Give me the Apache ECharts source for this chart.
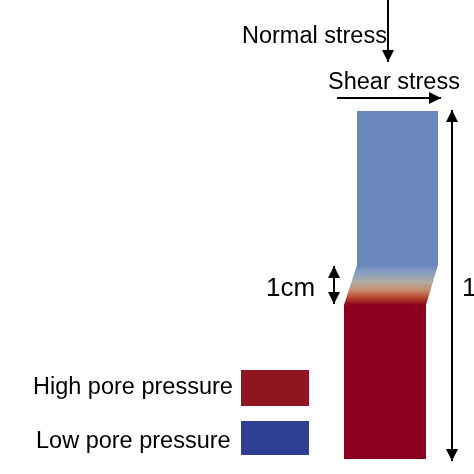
<!DOCTYPE html>
<html>
<head>
<meta charset="utf-8">
<title>Shear zone</title>
<style>
  html, body { margin: 0; padding: 0; background: #fff; }
  #chartmain { width: 474px; height: 474px; }
</style>
<script src="https://cdn.jsdelivr.net/npm/echarts@6/dist/echarts.min.js"></script>
</head>
<body>
<div id="chartmain"></div>
<script>
// sample outline, one row per level: [y, left x, right x]
var blueBlock = [[111, 357, 438], [265, 357, 438]];
var shearBand = [[265, 357, 438], [305, 344, 426]];
var redBlock = [[305, 344, 426], [459, 344, 426]];

var blueColor = '#6a87bd';
var redColor = '#8b001f';
var shearStops = [
  [0, '#6a87bd'], [0.2, '#8a9fc0'], [0.42, '#b0aba2'], [0.62, '#c98f6e'],
  [0.82, '#b8452f'], [1, '#8b001f']
];

// legend
var legendNames = ['High pore pressure', 'Low pore pressure'];
var legendColors = ['#8f1520', '#2f3f92'];
var legendBoxes = [[241, 370, 309, 406], [241, 421, 309, 455]];
var legendText = [[33, 400], [36, 454]];

// other labels
var labelNames = ['Normal stress', 'Shear stress', '1cm', '1'];
var labelPos = [[242, 49], [328, 95], [266, 302], [462, 302]];
var labelSize = [23.5, 23.5, 26, 26];

// arrows: [x0, y0, x1, y1, head on both ends]
var arrows = [
  [388, 0, 388, 62, 0],
  [337, 98, 441, 98, 0],
  [452, 110, 452, 461, 1],
  [334, 266, 334, 304, 1]
];

function polygonItem(rows, fill, api) {
  var pts = [];
  rows.forEach(function (r) { pts.push(api.coord([r[1], r[0]])); });
  rows.slice().reverse().forEach(function (r) { pts.push(api.coord([r[2], r[0]])); });
  return { type: 'polygon', shape: { points: pts }, style: { fill: fill } };
}

function headItem(tip, from, api) {
  var a = api.coord(tip), b = api.coord(from);
  var len = Math.sqrt((a[0] - b[0]) * (a[0] - b[0]) + (a[1] - b[1]) * (a[1] - b[1]));
  var ux = (a[0] - b[0]) / len, uy = (a[1] - b[1]) / len;
  var bx = a[0] - ux * 12, by = a[1] - uy * 12;
  return {
    type: 'polygon',
    shape: { points: [a, [bx - uy * 6, by + ux * 6], [bx + uy * 6, by - ux * 6]] },
    style: { fill: '#000' }
  };
}

function textItem(str, pos, size, api) {
  var p = api.coord(pos);
  return {
    type: 'text', x: p[0], y: p[1],
    style: {
      text: str, fill: '#000', font: size + 'px "Liberation Sans", Arial, sans-serif',
      textAlign: 'left', textVerticalAlign: 'bottom'
    }
  };
}

var option = {
  animation: false,
  grid: { left: 0, right: 0, top: 0, bottom: 0 },
  xAxis: { type: 'value', min: 0, max: 474, show: false },
  yAxis: { type: 'value', min: 0, max: 474, inverse: true, show: false },
  series: [
    { // sample
      type: 'custom', silent: true, data: [[0, 0]],
      renderItem: function (params, api) {
        var stops = shearStops.map(function (s) { return { offset: s[0], color: s[1] }; });
        return {
          type: 'group',
          children: [
            polygonItem(blueBlock, blueColor, api),
            polygonItem(redBlock, redColor, api),
            polygonItem(shearBand, new echarts.graphic.LinearGradient(0, 0, 0, 1, stops), api)
          ]
        };
      }
    },
    { // legend boxes
      type: 'custom', silent: true, data: legendBoxes,
      renderItem: function (params, api) {
        var p0 = api.coord([api.value(0), api.value(1)]);
        var p1 = api.coord([api.value(2), api.value(3)]);
        return {
          type: 'rect',
          shape: { x: p0[0], y: p0[1], width: p1[0] - p0[0], height: p1[1] - p0[1] },
          style: { fill: legendColors[params.dataIndex] }
        };
      }
    },
    { // arrows
      type: 'custom', silent: true, data: arrows,
      renderItem: function (params, api) {
        var s = [api.value(0), api.value(1)], e = [api.value(2), api.value(3)];
        var p0 = api.coord(s), p1 = api.coord(e);
        var kids = [{
          type: 'line',
          shape: { x1: p0[0], y1: p0[1], x2: p1[0], y2: p1[1] },
          style: { stroke: '#000', lineWidth: 2 }
        }, headItem(e, s, api)];
        if (api.value(4)) kids.push(headItem(s, e, api));
        return { type: 'group', children: kids };
      }
    },
    { // texts
      type: 'custom', silent: true, data: [[0, 0]],
      renderItem: function (params, api) {
        var kids = [];
        labelNames.forEach(function (n, i) { kids.push(textItem(n, labelPos[i], labelSize[i], api)); });
        legendNames.forEach(function (n, i) { kids.push(textItem(n, legendText[i], 23.5, api)); });
        return { type: 'group', children: kids };
      }
    }
  ]
};

var myChart = echarts.init(document.getElementById('chartmain'));
myChart.setOption(option);
</script>
</body>
</html>
